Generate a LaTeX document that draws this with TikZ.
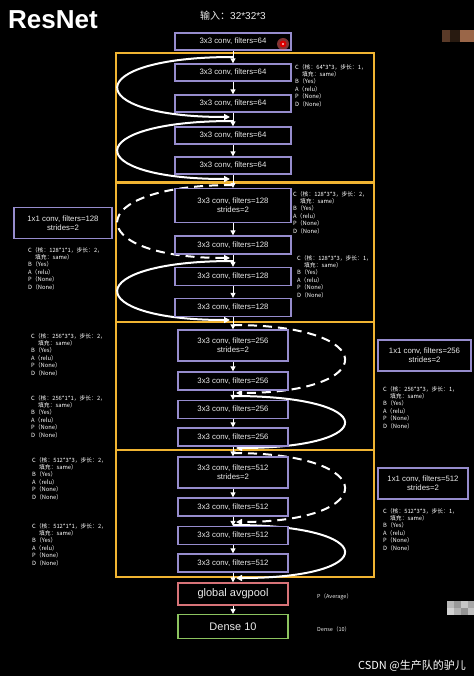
\documentclass[tikz,border=0pt]{standalone}
\usepackage{fontspec}
\setmainfont{Liberation Sans}
\newfontfamily\cjk{Noto Sans CJK SC}
\usetikzlibrary{arrows.meta}
\definecolor{convc}{RGB}{150,140,205}
\definecolor{grpc}{RGB}{240,180,50}
\definecolor{poolc}{RGB}{215,115,120}
\definecolor{densec}{RGB}{140,195,95}
\definecolor{txtc}{RGB}{235,235,235}
\newcommand\annblk[2]{C（核：#1，步长：#2，\\\hspace*{1.2em}填充：same）\\B（Yes）\\A（relu）\\P（None）\\D（None）}
\begin{document}
\begin{tikzpicture}[x=1pt,y=-1pt,
  conv/.style={draw=convc, line width=1.3pt, fill=black, text=txtc,
    font=\fontsize{7.8}{9}\selectfont, minimum width=116pt, minimum height=17pt,
    inner sep=1pt, align=center},
  convn/.style={conv, minimum width=110pt},
  side/.style={conv, minimum height=31pt},
  grp/.style={draw=grpc, line width=2pt},
  arr/.style={draw=white, line width=1pt, -{Triangle[width=5pt,length=5pt]}},
  skip/.style={draw=white, line width=2pt, -{Triangle[width=6pt,length=6pt]}},
  dskip/.style={skip, dash pattern=on 9pt off 6pt},
  ann/.style={anchor=north west, text=white, font=\cjk\fontsize{5.8}{7.4}\selectfont,
    align=left, inner sep=0pt},
  lbl/.style={text=txtc, font=\cjk\fontsize{5.5}{7}\selectfont, anchor=west, inner sep=0pt}]
\fill[black] (0,0) rectangle (474,676);
\useasboundingbox (0,0) rectangle (474,676);

% title
\node[text=white, font=\bfseries\fontsize{26}{28}\selectfont, inner sep=0pt] (title) at (53,19.5) {ResNet};
\node[text=txtc, font=\fontsize{10}{11}\selectfont, inner sep=0pt] (inp) at (233,16) {{\cjk 输入：}32*32*3};

% groups
\draw[grp] (116,53) rectangle (374,182);
\draw[grp] (116,183) rectangle (374,322);
\draw[grp] (116,322) rectangle (374,450);
\draw[grp] (116,450) rectangle (374,577);

% skip connections (drawn beneath the boxes)
\coordinate (k1) at (233,57);  \coordinate (k2) at (230,117);
\coordinate (k3) at (233,121); \coordinate (k4) at (230,179);
\coordinate (k5) at (233,185); \coordinate (k6) at (230,258);
\coordinate (k7) at (233,261); \coordinate (k8) at (230,320);
\coordinate (k9) at (233,325); \coordinate (k10) at (236,393);
\coordinate (k11) at (233,396); \coordinate (k12) at (236,448);
\coordinate (k13) at (233,453); \coordinate (k14) at (236,522);
\coordinate (k15) at (233,525); \coordinate (k16) at (236,578);
\draw[skip] (k1) .. controls (80,57) and (80,117) .. (k2);
\draw[skip] (k3) .. controls (80,121) and (80,179) .. (k4);
\draw[dskip] (k5) .. controls (80,185) and (80,258) .. (k6);
\draw[skip] (k7) .. controls (80,261) and (80,320) .. (k8);
\draw[dskip] (k9) .. controls (381,325) and (381,393) .. (k10);
\draw[skip] (k11) .. controls (381,396) and (381,448) .. (k12);
\draw[dskip] (k13) .. controls (381,453) and (381,522) .. (k14);
\draw[skip] (k15) .. controls (381,525) and (381,578) .. (k16);

% main column
\node[conv] (b0) at (233,41.5) {3x3 conv, filters=64};
\node[conv] (b1) at (233,72.5) {3x3 conv, filters=64};
\node[conv] (b2) at (233,103.5) {3x3 conv, filters=64};
\node[conv] (b3) at (233,135.5) {3x3 conv, filters=64};
\node[conv] (b4) at (233,165.5) {3x3 conv, filters=64};
\node[conv, minimum height=34pt] (b5) at (233,205.5) {3x3 conv, filters=128\\strides=2};
\node[conv, minimum height=18pt] (b6) at (233,245) {3x3 conv, filters=128};
\node[conv, minimum height=18pt] (b7) at (233,276.5) {3x3 conv, filters=128};
\node[conv, minimum height=18pt] (b8) at (233,307.5) {3x3 conv, filters=128};
\node[convn, minimum height=31pt] (b9) at (233,345.5) {3x3 conv, filters=256\\strides=2};
\node[convn, minimum height=18pt] (b10) at (233,381) {3x3 conv, filters=256};
\node[convn, minimum height=18pt] (b11) at (233,409.5) {3x3 conv, filters=256};
\node[convn, minimum height=18pt] (b12) at (233,437) {3x3 conv, filters=256};
\node[convn, minimum height=31pt] (b13) at (233,472.5) {3x3 conv, filters=512\\strides=2};
\node[convn, minimum height=18pt] (b14) at (233,507) {3x3 conv, filters=512};
\node[convn, minimum height=18pt] (b15) at (233,535.5) {3x3 conv, filters=512};
\node[convn, minimum height=18pt] (b16) at (233,563) {3x3 conv, filters=512};
\node[convn, draw=poolc, minimum height=22pt, font=\fontsize{11}{12}\selectfont] (pool) at (233,594) {global avgpool};
\node[convn, draw=densec, minimum height=24pt, font=\fontsize{11}{12}\selectfont] (dense) at (233,626.5) {Dense 10};

% side 1x1 boxes
\node[side, minimum width=98pt] (s128) at (63,223) {1x1 conv, filters=128\\strides=2};
\node[side, minimum width=93pt] (s256) at (424.5,355.5) {1x1 conv, filters=256\\strides=2};
\node[side, minimum width=90pt] (s512) at (423,483.5) {1x1 conv, filters=512\\strides=2};

% straight arrows
\foreach \a/\b in {b0/b1,b1/b2,b2/b3,b3/b4,b4/b5,b5/b6,b6/b7,b7/b8,b8/b9,b9/b10,b10/b11,b11/b12,b12/b13,b13/b14,b14/b15,b15/b16,b16/pool,pool/dense}
  \draw[arr] (\a) -- (\b);

% annotations
\node[ann] (a1) at (295,64) {\annblk{64*3*3}{1}};
\node[ann] (a2) at (293,191) {\annblk{128*3*3}{2}};
\node[ann] (a3) at (28,247) {\annblk{128*1*1}{2}};
\node[ann] (a4) at (297,255) {\annblk{128*3*3}{1}};
\node[ann] (a5) at (31,333) {\annblk{256*3*3}{2}};
\node[ann] (a6) at (31,395) {\annblk{256*1*1}{2}};
\node[ann] (a7) at (383,386) {\annblk{256*3*3}{1}};
\node[ann] (a8) at (32,457) {\annblk{512*3*3}{2}};
\node[ann] (a9) at (32,523) {\annblk{512*1*1}{2}};
\node[ann] (a10) at (383,508) {\annblk{512*3*3}{1}};
\node[lbl] (lp) at (317,597) {P（Average）};
\node[lbl] (ld) at (317,629) {Dense（10）};

% watermark
\node[text=white!80, font=\cjk\fontsize{11}{12}\selectfont, anchor=east, inner sep=0pt] (wm) at (466,666) {CSDN @生产队的驴儿};

% cursor highlight
\fill[red!60!white, opacity=0.5] (283,44) circle (6);
\fill[red!85!black] (283,44) circle (3.5);
\fill[white!80!red] (283,44) circle (1.2);

% blurred blocks
\fill[fill={rgb,255:red,90;green,58;blue,40}] (442,30) rectangle (450,42);
\fill[fill={rgb,255:red,40;green,26;blue,16}] (450,30) rectangle (460,42);
\fill[fill={rgb,255:red,154;green,102;blue,72}] (460,30) rectangle (474,42);
\fill[gray!55] (447,601) rectangle (454,608);
\fill[gray!80] (454,601) rectangle (461,608);
\fill[gray!45] (461,601) rectangle (468,608);
\fill[gray!70] (468,601) rectangle (474,608);
\fill[gray!35] (447,608) rectangle (454,615);
\fill[gray!60] (454,608) rectangle (461,615);
\fill[gray!85] (461,608) rectangle (468,615);
\fill[gray!50] (468,608) rectangle (474,615);
\end{tikzpicture}
\end{document}
